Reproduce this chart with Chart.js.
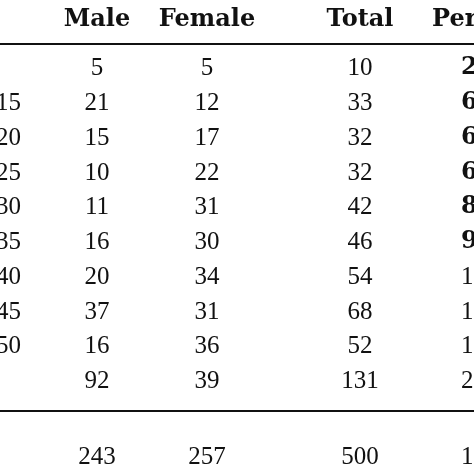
<!DOCTYPE html>
<html><head><meta charset="utf-8">
<script src="https://cdn.jsdelivr.net/npm/chart.js@4"></script>
<style>html,body{margin:0;padding:0;background:#fff}</style></head>
<body><canvas id="c" width="474" height="474"></canvas>
<script>
const ageGroups = ["<10","11-15","16-20","21-25","26-30","31-35","36-40","41-45","46-50",">50","Total"];
const male = [5,21,15,10,11,16,20,37,16,92,243];
const female = [5,12,17,22,31,30,34,31,36,39,257];
const total = [10,33,32,32,42,46,54,68,52,131,500];
const percentage = ["2","6.6","6.4","6.4","8.4","9.2","10.8","13.6","10.4","26.2","100"];
const headers = ["Male","Female","Total","Percentage"];

const rowY = [68,103,138,173,207,242,277,312,346,381,457];
const colX = {age:21, male:97, female:207, total:360, pct:461};
const headerX = [97,207,360,432];

const tablePlugin = {
  id:'table',
  afterDraw(chart){
    const {ctx, scales:{x,y}} = chart;
    ctx.save();
    ctx.fillStyle='#111';
    ctx.textBaseline='middle';
    ctx.font='bold 24px "DejaVu Serif", serif';
    headers.forEach((h,i)=>{
      ctx.textAlign = i===3?'left':'center';
      ctx.fillText(h, x.getPixelForValue(headerX[i]), y.getPixelForValue(20));
    });
    ctx.strokeStyle='#111'; ctx.lineWidth=2;
    [44,411].forEach(v=>{ctx.beginPath();ctx.moveTo(x.left,y.getPixelForValue(v));ctx.lineTo(x.right,y.getPixelForValue(v));ctx.stroke();});
    const reg='25px "Liberation Serif", serif';
    ctx.font=reg;
    rowY.forEach((ry,i)=>{
      const py=y.getPixelForValue(ry);
      ctx.textAlign='right';
      if(i>0 && i<9) ctx.fillText(ageGroups[i], x.getPixelForValue(colX.age), py);
      ctx.textAlign='center';
      ctx.fillText(String(male[i]), x.getPixelForValue(colX.male), py);
      ctx.fillText(String(female[i]), x.getPixelForValue(colX.female), py);
      ctx.fillText(String(total[i]), x.getPixelForValue(colX.total), py);
      ctx.textAlign='left';
      ctx.font = i<6 ? 'bold 24px "DejaVu Serif", serif' : reg;
      ctx.fillText(percentage[i], x.getPixelForValue(colX.pct), py);
      ctx.font=reg;
    });
    ctx.restore();
  }
};

new Chart(document.getElementById('c'),{
  type:'scatter',
  data:{datasets:[{data:male.map((v,i)=>({x:colX.male,y:rowY[i]})),pointRadius:0}]},
  options:{responsive:false,animation:false,layout:{padding:0},
    plugins:{legend:{display:false},tooltip:{enabled:false}},
    scales:{x:{display:false,min:0,max:474},y:{display:false,min:0,max:474,reverse:true}}},
  plugins:[tablePlugin]
});
</script></body></html>
